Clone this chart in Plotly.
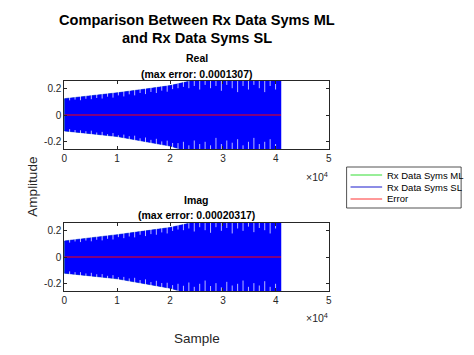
import plotly.graph_objects as go

# ---------------- data ----------------
n_samples = 40960

# envelope of the Rx data symbols (upper / lower), sample positions
env_x = [0, 5000, 10000, 15000, 20000, 24000, 32000, 40960]
env_lower_x = [0, 5000, 10000, 15000, 20000, 22000, 32000, 40960]
real_upper = [0.125, 0.147, 0.170, 0.197, 0.225, 0.262, 0.30, 0.30]
real_lower = [-0.122, -0.143, -0.165, -0.200, -0.238, -0.262, -0.30, -0.30]

imag_upper = [0.123, 0.146, 0.171, 0.198, 0.226, 0.262, 0.30, 0.30]
imag_lower = [-0.124, -0.145, -0.167, -0.201, -0.239, -0.262, -0.30, -0.30]

# dips in the envelope (symbol boundaries)
dip_x = [1024, 2048, 3072, 4096, 5120, 6144, 7168, 8192, 9216, 10240,
         11264, 12288, 13312, 14336, 15360, 16384, 17408, 18432, 19456, 20480,
         21504, 22528, 23552, 24576, 25600, 26624, 27648, 28672, 29696, 30720,
         31744, 32768, 33792, 34816, 35840, 36864, 37888, 38912, 39936]
real_dip_up = [0.112, 0.118, 0.113, 0.124, 0.121, 0.130, 0.126, 0.140, 0.133, 0.150,
               0.142, 0.158, 0.150, 0.168, 0.160, 0.176, 0.168, 0.186, 0.178, 0.198,
               0.205, 0.215, 0.205, 0.222, 0.195, 0.230, 0.205, 0.222, 0.185, 0.230,
               0.205, 0.175, 0.222, 0.195, 0.230, 0.205, 0.175, 0.222, 0.195]
real_dip_lo = [-0.108, -0.115, -0.117, -0.124, -0.120, -0.134, -0.129, -0.146, -0.138, -0.155,
               -0.150, -0.162, -0.158, -0.178, -0.172, -0.190, -0.182, -0.202, -0.196, -0.214,
               -0.215, -0.205, -0.232, -0.195, -0.222, -0.205, -0.232, -0.175, -0.222, -0.195,
               -0.212, -0.185, -0.232, -0.205, -0.175, -0.222, -0.205, -0.185, -0.222]
imag_dip_up = [0.110, 0.119, 0.114, 0.126, 0.120, 0.132, 0.127, 0.139, 0.134, 0.152,
               0.144, 0.157, 0.150, 0.170, 0.160, 0.175, 0.170, 0.188, 0.180, 0.199,
               0.210, 0.205, 0.218, 0.195, 0.228, 0.205, 0.185, 0.228, 0.200, 0.222,
               0.180, 0.218, 0.200, 0.232, 0.190, 0.222, 0.205, 0.180, 0.218]
imag_dip_lo = [-0.110, -0.116, -0.116, -0.126, -0.121, -0.132, -0.131, -0.144, -0.139, -0.154,
               -0.152, -0.164, -0.159, -0.176, -0.171, -0.191, -0.182, -0.199, -0.197, -0.215,
               -0.205, -0.220, -0.195, -0.228, -0.205, -0.180, -0.222, -0.200, -0.232, -0.190,
               -0.218, -0.205, -0.180, -0.228, -0.200, -0.218, -0.185, -0.228, -0.205]

# error (ML - SL), max errors are ~1e-4 -> flat at zero on this scale
err_x = [0, n_samples]
real_err = [0.0, 0.0]
imag_err = [0.0, 0.0]

real_max_err = "0.0001307"
imag_max_err = "0.00020317"

series_names = ["Rx Data Syms ML", "Rx Data Syms SL", "Error"]
series_colors = ["#33dd33", "#1a1acc", "#ff3333"]

x_ticks = [0, 10000, 20000, 30000, 40000, 50000]
x_ticklabels = ["0", "1", "2", "3", "4", "5"]
y_ticks = [-0.2, 0, 0.2]
y_ticklabels = ["-0.2", "0", "0.2"]

# ---------------- figure ----------------
W, H = 474, 355
Y_LIM = 0.26
FONT = "Liberation Sans, Arial, Helvetica, sans-serif"
AX_COLOR = "#262626"

fig = go.Figure()


def add_panel(xa, ya, upper, lower, dip_up, dip_lo, err):
    poly_x = env_x + env_lower_x[::-1]
    poly_y = upper + lower[::-1]
    # ML (green) drawn first, SL (blue) on top -- identical data
    fig.add_trace(go.Scatter(x=poly_x, y=poly_y, fill="toself", mode="lines",
                             line=dict(width=0, color="#00dd00"), fillcolor="#00dd00",
                             showlegend=False, hoverinfo="skip", xaxis=xa, yaxis=ya))
    fig.add_trace(go.Scatter(x=poly_x, y=poly_y, fill="toself", mode="lines",
                             line=dict(width=0.5, color="#0000ff"), fillcolor="#0000ff",
                             showlegend=False, hoverinfo="skip", xaxis=xa, yaxis=ya))
    # dips (gaps in the dense waveform)
    dx, dy = [], []
    for p, u, l in zip(dip_x, dip_up, dip_lo):
        dx += [p, p, None, p, p, None]
        dy += [u, 0.35, None, l, -0.35, None]
    fig.add_trace(go.Scatter(x=dx, y=dy, mode="lines",
                             line=dict(width=0.9, color="rgba(255,255,255,0.8)"),
                             showlegend=False, hoverinfo="skip", xaxis=xa, yaxis=ya))
    # error
    fig.add_trace(go.Scatter(x=err_x, y=err, mode="lines",
                             line=dict(width=1, color="#ff0000"),
                             showlegend=False, hoverinfo="skip", xaxis=xa, yaxis=ya))


add_panel("x", "y", real_upper, real_lower, real_dip_up, real_dip_lo, real_err)
add_panel("x2", "y2", imag_upper, imag_lower, imag_dip_up, imag_dip_lo, imag_err)

x0, x1 = 62 / W, 330 / W
top_dom = [(H - 149) / H, (H - 81) / H]
bot_dom = [(H - 291) / H, (H - 223) / H]

xax = dict(range=[0, 50000], tickvals=x_ticks, ticktext=x_ticklabels, ticks="inside",
           ticklen=3, tickcolor=AX_COLOR, tickwidth=0.8, showline=True, linecolor=AX_COLOR,
           linewidth=0.8, mirror="ticks", showgrid=False, zeroline=False,
           tickfont=dict(size=10, color=AX_COLOR, family=FONT), domain=[x0, x1], fixedrange=True)
yax = dict(range=[-Y_LIM, Y_LIM], tickvals=y_ticks, ticktext=y_ticklabels, ticks="inside",
           ticklen=3, tickcolor=AX_COLOR, tickwidth=0.8, showline=True, linecolor=AX_COLOR,
           linewidth=0.8, mirror="ticks", showgrid=False, zeroline=False,
           tickfont=dict(size=10, color=AX_COLOR, family=FONT), fixedrange=True)

fig.update_layout(
    width=W, height=H, margin=dict(l=0, r=0, t=0, b=0),
    paper_bgcolor="white", plot_bgcolor="white",
    font=dict(family=FONT, color=AX_COLOR),
    xaxis=dict(xax, anchor="y"),
    yaxis=dict(yax, domain=top_dom, anchor="x"),
    xaxis2=dict(xax, anchor="y2"),
    yaxis2=dict(yax, domain=bot_dom, anchor="x2"),
    showlegend=False,
)

cx = (62 + 330) / 2 / W


def ann(text, x, y, size, bold=False, **kw):
    t = f"<b>{text}</b>" if bold else text
    fig.add_annotation(text=t, x=x, y=y, xref="paper", yref="paper", showarrow=False,
                       font=dict(size=size, family=FONT, color=kw.pop("color", "#000000")),
                       xanchor=kw.pop("xanchor", "center"), yanchor="middle", **kw)


ann("Comparison Between Rx Data Syms ML", cx, (H - 20) / H, 14.6, bold=True)
ann("and Rx Data Syms SL", cx, (H - 38) / H, 14.6, bold=True)
ann("Real", cx, (H - 58) / H, 10.5, bold=True)
ann(f"(max error: {real_max_err})", cx, (H - 74) / H, 10.5, bold=True)
ann("Imag", cx, (H - 200) / H, 10.5, bold=True)
ann(f"(max error: {imag_max_err})", cx, (H - 215) / H, 10.5, bold=True)
ann("×10<sup>4</sup>", 331 / W, (H - 176) / H, 10.5, xanchor="right", color=AX_COLOR)
ann("×10<sup>4</sup>", 331 / W, (H - 317) / H, 10.5, xanchor="right", color=AX_COLOR)
ann("Amplitude", 29 / W, (H - 187) / H, 13.5, textangle=-90, color=AX_COLOR)
ann("Sample", cx, (H - 338) / H, 13.5, color=AX_COLOR)

# legend box (drawn manually for compact MATLAB-like spacing)
fig.add_shape(type="rect", xref="paper", yref="paper",
              x0=348 / W, x1=464 / W, y0=(H - 208) / H, y1=(H - 167) / H,
              line=dict(color=AX_COLOR, width=0.8), fillcolor="white", layer="above")
for i, (name, col) in enumerate(zip(series_names, series_colors)):
    yy = (H - (175 + 12 * i)) / H
    fig.add_shape(type="line", xref="paper", yref="paper",
                  x0=352 / W, x1=384 / W, y0=yy, y1=yy,
                  line=dict(color=col, width=1), layer="above")
    ann(name, 387 / W, yy, 9.5, xanchor="left", color="#000000")

fig.write_html("out.html", config={"displayModeBar": False},
               post_script="document.body.style.margin='0';")
